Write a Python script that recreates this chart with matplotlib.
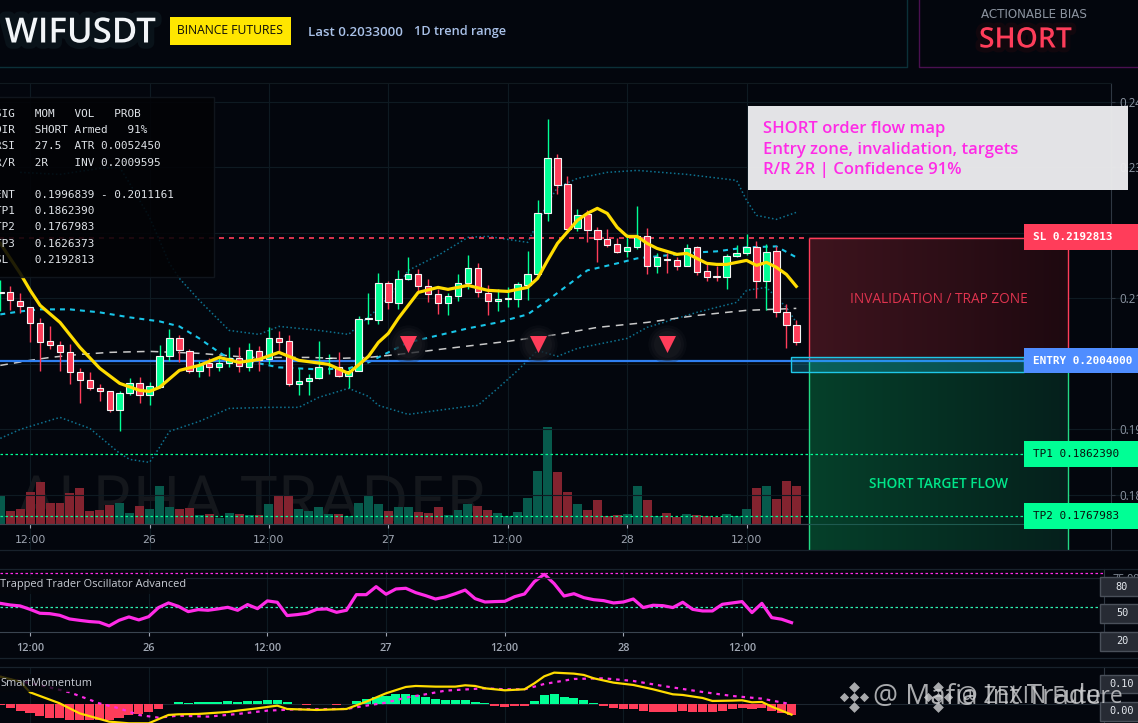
import matplotlib
matplotlib.use("Agg")
import matplotlib.patheffects as pe
import matplotlib.pyplot as plt
import numpy as np
from matplotlib.patches import Rectangle

W, H = 1138, 723
BG = "#03060d"
GRID = "#0e1a22"
AXIS = "#2e3742"
GREEN = "#00ff95"
RED = "#ff3d5a"
YELLOW = "#ffdc00"
MAGENTA = "#ff2be6"
SANS = "Open Sans"
MONO = "DejaVu Sans Mono"

# candles, one per hour
opens = [.21086, .21101, .20964, .20873, .20629, .20344, .20293, .20186, .19881, .19759, .19637, .19591,
         .19296, .19556, .19713, .19525, .19652, .20120, .20400, .20202, .19896, .20018, .19952, .20018,
         .20095, .19952, .20202, .20080, .20400, .20354, .19693, .19739, .19785, .20090, .19957, .19815,
         .19896, .20690, .20664, .21239, .20934, .21289, .21376, .21193, .21071, .20928, .21035, .21233,
         .21467, .21086, .20959, .20994, .20989, .21203, .21371, .22306, .23145, .22749, .22067, .22291,
         .22047, .21910, .21833, .21727, .21783, .21956, .21493, .21605, .21590, .21493, .21788, .21422,
         .21335, .21330, .21645, .21691, .21783, .21264, .21727, .20796, .20598]
highs = [.21285, .21183, .21076, .20873, .20695, .20573, .20344, .20308, .19942, .19871, .19688, .19591,
         .19591, .19779, .19794, .19729, .20283, .20537, .20446, .20222, .20049, .20095, .20095, .20252,
         .20252, .20313, .20268, .20557, .20496, .20435, .19942, .19840, .20344, .20146, .20176, .19957,
         .20725, .21076, .21391, .21259, .21430, .21625, .21442, .21289, .21147, .21086, .21366, .21655,
         .21544, .21198, .21147, .21172, .21249, .21716, .22494, .23730, .23206, .22861, .22357, .22342,
         .22088, .22052, .21920, .21986, .22403, .22067, .21696, .21691, .21630, .21823, .21793, .21528,
         .21493, .21681, .21808, .21986, .21879, .21823, .21793, .20918, .20664]
lows = [.20807, .20817, .20776, .20329, .19886, .20222, .19886, .19688, .19398, .19596, .19429, .19261,
        .18971, .19520, .19398, .19368, .19627, .20044, .20029, .19861, .19795, .19810, .19886, .19947,
        .19871, .19886, .19886, .20003, .20171, .19657, .19520, .19520, .19764, .19840, .19805, .19637,
        .19886, .20613, .20613, .20842, .20842, .21274, .21096, .20944, .20760, .20740, .20954, .21147,
        .21020, .20740, .20801, .20867, .20867, .20969, .21350, .22174, .22596, .22037, .22027, .21859,
        .21554, .21778, .21691, .21630, .21757, .21366, .21386, .21386, .21427, .21493, .21360, .21259,
        .21259, .21142, .21630, .21655, .21005, .20827, .20710, .20242, .20282]
closes = [.21091, .20974, .20883, .20624, .20334, .20288, .20181, .19876, .19754, .19632, .19586, .19296,
          .19561, .19713, .19525, .19668, .20125, .20400, .20212, .19896, .19983, .19952, .20018, .20095,
          .19968, .20217, .20054, .20400, .20334, .19693, .19744, .19790, .19957, .20095, .19815, .19896,
          .20690, .20695, .21239, .20944, .21300, .21376, .21188, .21071, .20928, .21040, .21239, .21467,
          .21096, .20959, .20989, .20998, .21223, .21366, .22306, .23145, .22734, .22062, .22276, .22047,
          .21910, .21813, .21706, .21788, .21956, .21493, .21630, .21584, .21493, .21772, .21401, .21330,
          .21332, .21650, .21696, .21783, .21264, .21711, .20791, .20598, .20330]
volumes = [28, 13, 15, 32, 42, 21, 21, 31, 36, 13, 14, 19, 21, 11, 18, 15, 38, 17, 15, 16, 9, 10, 6, 11, 10, 9, 9,
           20, 28, 28, 15, 13, 17, 10, 10, 8, 21, 29, 20, 13, 17, 17, 12, 11, 17, 9, 14, 20, 18, 14, 11, 8, 12, 26,
           53, 97, 52, 32, 20, 14, 24, 8, 9, 10, 38, 24, 8, 11, 7, 10, 9, 8, 7, 10, 8, 15, 36, 38, 25, 43, 38]

ema_idx = [0, 2, 3, 4, 6, 8, 10, 12, 14, 15, 16, 18, 20, 22, 24, 26, 28, 30, 33, 35, 37, 38, 39, 40, 42, 44, 45,
           47, 49, 51, 53, 54, 55, 56, 58, 59, 60, 61, 62, 63, 64, 65, 66, 68, 69, 70, 71, 72, 73, 75, 76, 77, 78,
           79, 80]
ema = [.21839, .21381, .21122, .20893, .20633, .20252, .19932, .19703, .19596, .19581, .19642, .19901, .19977,
       .20099, .20023, .20069, .20176, .20054, .19993, .19855, .20115, .20328, .20466, .20694, .21091, .21167,
       .21137, .21198, .21122, .21106, .21167, .21305, .21579, .21839, .22190, .22296, .22373, .22296, .22083,
       .21945, .21945, .21839, .21762, .21671, .21686, .21610, .21534, .21518, .21518, .21579, .21503, .21549,
       .21473, .21366, .21183]

basis_idx = [0, 2, 4, 7, 10, 13, 16, 18, 20, 22, 23, 26, 28, 32, 35, 37, 39, 41, 44, 47, 50, 53, 55, 57, 59, 62,
             64, 67, 70, 72, 75, 78, 80]
basis = [.20755, .20801, .20832, .20832, .20786, .20710, .20649, .20572, .20389, .20176, .20084, .20008, .19947,
         .19916, .19932, .20023, .20176, .20328, .20435, .20542, .20633, .20755, .20969, .21198, .21427, .21534,
         .21610, .21656, .21701, .21717, .21778, .21793, .21625]

upper_idx = [2, 6, 10, 12, 13, 15, 17, 18, 20, 23, 26, 28, 32, 35, 38, 40, 41, 44, 47, 49, 53, 55, 56, 58, 61, 64,
             69, 74, 75, 76, 78, 80]
upper = [.22922, .22891, .22983, .22998, .22754, .22235, .21534, .21305, .20969, .20511, .20450, .20572, .20511,
         .20450, .20847, .21198, .21427, .21656, .21930, .21945, .21854, .22449, .22693, .22830, .22922, .22952,
         .22891, .22800, .22495, .22266, .22205, .22312]

lower_idx = [0, 2, 4, 6, 9, 12, 13, 15, 16, 17, 20, 23, 27, 30, 32, 35, 37, 38, 41, 44, 47, 48, 50, 52, 54, 56, 58,
             63, 65, 70, 74, 75, 77, 79, 80]
lower = [.18864, .19001, .19093, .19184, .19016, .18635, .18543, .18498, .18726, .18971, .19123, .19321, .19337,
         .19337, .19489, .19627, .19505, .19367, .19230, .19291, .19352, .19367, .19627, .19901, .20206, .20115,
         .20237, .20389, .20557, .20786, .20939, .21122, .21167, .20862, .20633]

sma_idx = [0, 3, 5, 8, 11, 15, 20, 25, 31, 34, 37, 40, 45, 51, 56, 60, 65, 70, 75, 80]
sma = [.19977, .20054, .20099, .20145, .20176, .20191, .20161, .20099, .20099, .20084, .20099, .20145, .20237,
       .20344, .20450, .20557, .20633, .20740, .20817, .20847]

signal_idx = [41, 54, 67]
signal_price = .20298

oscillator = [52.9, 51.7, 51.0, 48.5, 45.6, 45.3, 44.1, 41.4, 40.4, 39.5, 39.0, 36.3, 40.4, 42.9, 40.7, 43.1, 49.8,
              53.2, 50.7, 46.8, 48.3, 47.8, 48.8, 50.0, 47.8, 52.0, 49.0, 54.7, 53.7, 43.9, 44.6, 45.6, 48.5, 48.8,
              46.3, 47.8, 59.3, 59.3, 65.2, 59.6, 63.5, 64.0, 60.8, 58.6, 56.1, 57.6, 60.0, 62.7, 56.4, 53.9, 54.2,
              54.4, 57.8, 59.8, 68.9, 74.3, 67.4, 58.3, 60.0, 57.1, 55.6, 54.9, 53.2, 53.9, 56.1, 49.8, 51.5, 51.2,
              49.8, 53.7, 48.5, 47.3, 47.3, 52.2, 53.2, 54.2, 46.1, 52.9, 42.4, 41.2, 38.7]

momentum_hist = [-2, -11, -20, -27, -35, -40, -42, -47, -47, -47, -47, -47, -42, -32, -29, -23, -14, 1, 7, 4, 7, 7,
                 7, 10, 7, 10, 10, 13, 13, 7, 1, -3, 1, 1, -1, 1, 10, 17, 23, 26, 31, 31, 28, 22, 16, 13, 13, 13, 7,
                 4, -4, -8, -5, -5, 10, 28, 31, 22, 19, 13, 4, -4, -11, -14, -14, -20, -23, -23, -23, -20, -23, -23,
                 -23, -20, -14, -11, -14, -11, -20, -26, -32]
momentum_idx = [0, 2, 3, 6, 8, 11, 13, 15, 17, 18, 20, 23, 24, 26, 28, 29, 32, 35, 37, 39, 41, 42, 44, 46, 47, 48,
                49, 51, 53, 54, 55, 56, 58, 59, 60, 62, 64, 66, 68, 69, 71, 72, 74, 75, 76, 77, 78, 79, 80]
momentum_line = [83, 68, 36, 3, -27, -52, -57, -57, -32, -30, -29, -23, -19, -12, -4, -14, -17, -14, 8, 33, 52, 55,
                 53, 53, 57, 55, 48, 42, 45, 63, 84, 95, 92, 88, 78, 65, 58, 45, 30, 28, 19, 10, 11, 12, 6, 7, -7,
                 -19, -31]
momentum_sig_idx = [0, 1, 4, 7, 10, 12, 14, 16, 18, 21, 24, 27, 30, 35, 37, 39, 41, 43, 45, 49, 51, 53, 55, 58, 61,
                    64, 67, 71, 74, 77, 80]
momentum_sig = [83, 75, 58, 36, 3, -12, -32, -40, -34, -37, -29, -19, -15, -14, -4, 5, 20, 30, 41, 48, 45, 45, 61,
                76, 78, 70, 55, 37, 25, 17, 0]

time_idx = [3, 15, 27, 39, 51, 63, 75]
time_labels = ["12:00", "26", "12:00", "27", "12:00", "28", "12:00"]
price_ticks = [.18, .19, .20, .21, .22, .23, .24]

SL = 0.2192813
ENTRY = 0.2004000
TP1 = 0.1862390
TP2 = 0.1767983
ZONE_TOP = 0.2011161
ZONE_BOTTOM = 0.1987000

table_rows = ["SIG   MOM   VOL   PROB",
              "DIR   SHORT Armed   91%",
              "RSI   27.5  ATR 0.0052450",
              "R/R   2R    INV 0.2009595",
              "ENT   0.1996839 - 0.2011161",
              "TP1   0.1862390",
              "TP2   0.1767983",
              "TP3   0.1626373",
              "SL    0.2192813"]
table_y = [114, 130, 146, 163, 195, 211, 227, 244, 260]
note_lines = ["SHORT order flow map", "Entry zone, invalidation, targets", "R/R 2R | Confidence 91%"]


def px_axes(fig, top, bottom, zorder=1):
    ax = fig.add_axes([0, 1 - bottom / H, 1, (bottom - top) / H], zorder=zorder)
    ax.patch.set_visible(False)
    for side in ("top", "left", "bottom", "right"):
        ax.spines[side].set_visible(False)
    ax.tick_params(left=False, bottom=False, labelleft=False, labelbottom=False)
    return ax


def gradient(ax, left, right, x0, x1, y0, y1):
    ramp = np.linspace(0, 1, 128)[None, :, None]
    img = np.array(left)[None, None, :] * (1 - ramp) + np.array(right)[None, None, :] * ramp
    ax.imshow(img / 255, extent=(x0, x1, y0, y1), aspect="auto", zorder=2, interpolation="bilinear")


def draw_volume(ax, colors):
    ax.set_xlim(-0.3 / 9.95, (W - 0.3) / 9.95)
    ax.set_ylim(-26, 441)
    ax.text(1.5, 0, "ALPHA TRADER", color="#14171c", fontsize=48, family=SANS, va="baseline", zorder=1)
    faded = ["#075a4c" if c == GREEN else "#83232f" for c in colors]
    ax.bar(range(len(volumes)), volumes, width=0.9, color=faded, zorder=2)
    ax.set_xticks(time_idx, time_labels)
    ax.tick_params(bottom=True, labelbottom=True, colors="#a0a7b3", length=3, width=0.8, labelsize=7.8, pad=5)
    for label in ax.get_xticklabels():
        label.set_family(SANS)
        label.set_fontweight("semibold")
    ax.spines["bottom"].set_visible(True)
    ax.spines["bottom"].set_position(("data", 0))
    ax.spines["bottom"].set_color("#3a4450")
    ax.vlines(time_idx, -26, 441, color=GRID, lw=0.8, zorder=0)


def draw_main(ax, colors):
    ax.set_xlim(-0.3 / 9.95, (W - 0.3) / 9.95)
    for y in price_ticks:
        ax.axhline(y, color=GRID, lw=0.8, zorder=0)
    x0, x1 = 81.3, 107.3
    gradient(ax, (62, 20, 30), (30, 9, 16), x0, x1, ENTRY, SL)
    gradient(ax, (6, 64, 42), (5, 32, 28), x0, x1, 0.1716, ENTRY)
    ax.vlines([x0, x1], ENTRY, SL, color=RED, lw=1, zorder=3)
    ax.vlines([x0, x1], 0.1716, ENTRY, color="#23d985", lw=1, zorder=3)
    ax.hlines(SL, x0, x1, color=RED, lw=1, zorder=3)

    idx = np.arange(len(opens))
    ax.plot(upper_idx, upper, color="#0e7391", lw=1.1, ls=(0, (1, 1.6)), zorder=4)
    ax.plot(lower_idx, lower, color="#0e7391", lw=1.1, ls=(0, (1, 1.6)), zorder=4)
    ax.plot(sma_idx, sma, color="#c9c9c9", lw=1.1, ls=(0, (5, 4)), zorder=4)
    ax.plot(basis_idx, basis, color="#18c5e8", lw=1.5, ls=(0, (2.4, 2.4)), zorder=4)

    ax.axhline(ENTRY, xmax=1024 / W, color="#2f7ff0", lw=1.6, zorder=5)
    ax.hlines(SL, -1, 81.3, color=RED, lw=1.2, ls=(0, (3, 3)), zorder=5)
    ax.axhline(TP1, xmax=1024 / W, color=GREEN, lw=0.9, ls=(0, (2, 2)), zorder=5)
    ax.axhline(TP2, xmax=1024 / W, color=GREEN, lw=0.9, ls=(0, (2, 2)), zorder=5)

    ax.vlines(idx, lows, highs, color=colors, lw=1, zorder=6)
    body = np.abs(np.array(closes) - np.array(opens))
    ax.bar(idx, body, bottom=np.minimum(opens, closes), width=0.65, color=colors, edgecolor="#f4f4f4", lw=0.8,
           zorder=7)
    ax.plot(ema_idx, ema, color=YELLOW, lw=2.3, zorder=8, solid_joinstyle="round")

    sx = signal_idx
    for size, alpha in ((760, 0.25), (560, 0.35), (380, 0.5)):
        ax.scatter(sx, [signal_price] * len(sx), s=size, color="#1a1c22", alpha=alpha, linewidths=0, zorder=5)
    ax.scatter(sx, [signal_price] * len(sx), s=150, marker="v", color=RED, linewidths=0, zorder=9)

    ax.add_patch(Rectangle((79.5, ZONE_BOTTOM), 23.4, ZONE_TOP - ZONE_BOTTOM, fc="#17c4e6", alpha=0.25, ec="none",
                           zorder=6))
    ax.add_patch(Rectangle((79.5, ZONE_BOTTOM), 23.4, ZONE_TOP - ZONE_BOTTOM, fc="none", ec="#1fc7e8", lw=1,
                           zorder=6))
    ax.text(94.3, 0.2098, "INVALIDATION / TRAP ZONE", color="#e0344f", fontsize=9.8, family=SANS, ha="center",
            va="center", zorder=7)
    ax.text(94.3, 0.18168, "SHORT TARGET FLOW", color="#00e68a", fontsize=9.8, family=SANS, fontweight="semibold",
            ha="center", va="center", zorder=7)

    ax.set_ylim(0.18 - 55 / 6555, 0.18 + 412 / 6555)
    ax.set_xlim(-0.3 / 9.95, (W - 0.3) / 9.95)
    ax.yaxis.tick_right()
    ax.spines["right"].set_visible(True)
    ax.spines["right"].set_position(("data", 111.6))
    ax.spines["right"].set_color(AXIS)
    ax.set_yticks(price_ticks, [f"{p:.4f}" for p in price_ticks])
    ax.tick_params(right=True, labelright=True, length=3, width=0.8, color=AXIS, labelcolor="#8d96a3", labelsize=8.3,
                   pad=3)
    for label in ax.get_yticklabels():
        label.set_family(SANS)


def draw_oscillator(ax):
    ax.set_xlim(-0.33 / 9.89, (W - 0.33) / 9.89)
    ax.set_ylim(31.8, 78.2)
    ax.vlines(time_idx, 31.8, 78.2, color=GRID, lw=0.8, zorder=0)
    ax.axhline(75, xmax=1104 / W, color=MAGENTA, lw=0.9, ls=(0, (2, 2)), zorder=2)
    ax.axhline(50, xmax=1104 / W, color="#2cf2b0", lw=0.9, ls=(0, (2, 2)), zorder=2)
    ax.plot(range(len(oscillator)), oscillator, color=MAGENTA, lw=2.3, zorder=3)
    ax.spines["bottom"].set_visible(True)
    ax.spines["bottom"].set_color("#3a4450")
    ax.set_xticks(time_idx, time_labels)
    ax.tick_params(bottom=True, labelbottom=True, colors="#a0a7b3", length=3, width=0.8, labelsize=7.8, pad=5)
    for label in ax.get_xticklabels():
        label.set_family(SANS)
        label.set_fontweight("semibold")
    ax.spines["right"].set_visible(True)
    ax.spines["right"].set_position(("data", 111.6))
    ax.spines["right"].set_color(AXIS)


def draw_momentum(ax):
    ax.set_xlim(-0.33 / 9.89, (W - 0.33) / 9.89)
    ax.set_ylim(-0.0561, 0.1119)
    ax.vlines(time_idx, -1, 1, color=GRID, lw=0.8, zorder=0)
    ax.axhline(0, xmax=1104 / W, color="#1d2630", lw=0.8, zorder=1)
    hist = np.array(momentum_hist) / 1000
    ax.bar(range(len(hist)), hist, width=0.92, color=[GREEN if v >= 0 else RED for v in hist], zorder=2)
    ax.plot(momentum_sig_idx, np.array(momentum_sig) / 1000, color=MAGENTA, lw=1.6, ls=(0, (1.6, 2.2)), zorder=3)
    ax.plot(momentum_idx, np.array(momentum_line) / 1000, color=YELLOW, lw=1.6, zorder=4)
    ax.spines["right"].set_visible(True)
    ax.spines["right"].set_position(("data", 111.6))
    ax.spines["right"].set_color(AXIS)


def binance_logo(ui, cx, cy):
    for dx, dy, size in [(0, 0, 22), (-10, 0, 22), (10, 0, 22), (0, -10, 30), (0, 10, 30)]:
        ui.scatter(cx + dx, cy + dy, s=size, marker="D", color="#d2d3d5", alpha=0.8, linewidths=0, zorder=20)


def draw_ui(ui):
    ui.set_xlim(0, W)
    ui.set_ylim(H, 0)
    ui.axis("off")

    # header
    ui.plot([0, 907, 907], [66.5, 66.5, 0], color="#0b3038", lw=1)
    ui.plot([919, 919, W], [0, 66.5, 66.5], color="#4a1050", lw=1)
    ui.plot([0, 1111], [83, 83], color="#10191f", lw=0.8)
    ui.text(5, 33.5, "WIFUSDT", color="#f2f5f8", fontsize=25, family=SANS, fontweight="semibold", va="center",
            path_effects=[pe.withStroke(linewidth=9, foreground="#091219")])
    ui.add_patch(Rectangle((170, 17), 121, 28, fc="#ffe600", ec="none"))
    ui.text(230.5, 30.5, "BINANCE FUTURES", color="#0b0b0b", fontsize=8.7, family=SANS, ha="center", va="center")
    ui.text(308, 32, "Last 0.2033000", color="#a9c1e8", fontsize=9.5, family=SANS, fontweight="semibold", va="center")
    ui.text(414, 32, "1D trend range", color="#a9c1e8", fontsize=9.2, family=SANS, fontweight="semibold", va="center")
    ui.text(1033.5, 14, "ACTIONABLE BIAS", color="#8c94a0", fontsize=8.6, family="DejaVu Sans", ha="center",
            va="center")
    ui.text(979, 40, "SHORT", color=RED, fontsize=20.3, family=SANS, fontweight="semibold", va="center",
            path_effects=[pe.withStroke(linewidth=7, foreground="#11070d")])

    # status table
    ui.add_patch(Rectangle((-2, 97), 216, 180, fc="#020306", alpha=0.88, ec="#12181f", lw=1, zorder=3))
    for row, y in zip(table_rows, table_y):
        ui.text(-5, y, row, color="#dfe3e8", fontsize=7.9, family=MONO, va="center", zorder=4)

    # note box
    ui.add_patch(Rectangle((748, 106), 380, 84, fc="#ececee", alpha=0.97, ec="none", zorder=3))
    for line, y in zip(note_lines, (129, 150, 170)):
        ui.text(763, y, line, color=MAGENTA, fontsize=12, family=SANS, fontweight="semibold", va="center",
                zorder=4)

    # price tags
    tags = [(224, 250, RED, "SL 0.2192813", "white"),
            (348, 373, "#4f8dff", "ENTRY 0.2004000", "white"),
            (441, 467, GREEN, "TP1 0.1862390", "#06120c"),
            (503, 529, GREEN, "TP2 0.1767983", "#06120c")]
    for top, bottom, face, text, ink in tags:
        ui.add_patch(Rectangle((1024, top), W - 1024, bottom - top, fc=face, ec="none", zorder=5))
        weight = "bold" if ink == "white" else "normal"
        ui.text(1033, (top + bottom) / 2, text, color=ink, fontsize=7.9, family=MONO, fontweight=weight, va="center",
                zorder=6)

    # pane separators
    ui.plot([0, 809], [524, 524], color="#3a4450", lw=0.8, zorder=1)
    ui.plot([809, 1111], [524, 524], color="#1e5a50", lw=0.8, zorder=1)
    for y in (550, 569, 578, 658, 667):
        ui.plot([0, W], [y, y], color="#18222c", lw=0.9, zorder=1)

    # pane labels
    for text, y, width in (("Trapped Trader Oscillator Advanced", 585, 187), ("SmartMomentum", 683, 92)):
        ui.add_patch(Rectangle((-1, y - 9), width, 18, fc="#05070c", alpha=0.8, ec="none", zorder=3))
        ui.text(0, y, text, color="#c8ccd4", fontsize=7.9, family=SANS, va="center", zorder=4)

    # oscillator scale, mostly under the value boxes
    ui.text(1113, 580, "75.00", color="#8d96a3", fontsize=7.8, family=SANS, va="center", zorder=4)
    ui.text(1113, 609, "50.00", color="#8d96a3", fontsize=7.8, family=SANS, va="center", zorder=4)

    # value boxes
    for text, top, bottom in (("80", 577, 596), ("50", 604, 623), ("20", 632, 651), ("0.10", 675, 693),
                              ("0.00", 702, 720.5)):
        ui.add_patch(Rectangle((1100, top), 44, bottom - top, fc="#272b34", ec="#4a505a", lw=1, zorder=5))
        ui.text(1122, (top + bottom) / 2, text, color="#e4e8ee", fontsize=7.4, family=MONO, ha="center", va="center",
                zorder=6)

    # repost watermarks
    binance_logo(ui, 854, 697)
    binance_logo(ui, 938, 697)
    ui.text(873, 697, "@ Mafia Int Trade", color="#d2d3d5", alpha=0.8, fontsize=20, family=SANS, va="center",
            zorder=20)
    ui.text(957, 697, "@ ZEXIN Future", color="#d2d3d5", alpha=0.8, fontsize=16.5, family=SANS, va="center",
            zorder=20)


def main():
    fig = plt.figure(figsize=(W / 100, H / 100), dpi=100, facecolor=BG)
    colors = [GREEN if c >= o else RED for o, c in zip(opens, closes)]

    vol_ax = px_axes(fig, 83, 550, zorder=1)
    main_ax = px_axes(fig, 83, 550, zorder=2)
    osc_ax = px_axes(fig, 569, 632, zorder=2)
    mom_ax = px_axes(fig, 667, 723, zorder=2)
    ui = fig.add_axes([0, 0, 1, 1], zorder=10)
    ui.patch.set_visible(False)

    draw_volume(vol_ax, colors)
    draw_main(main_ax, colors)
    draw_oscillator(osc_ax)
    draw_momentum(mom_ax)
    draw_ui(ui)

    fig.savefig("out.png", dpi=100, facecolor=BG)


if __name__ == "__main__":
    main()
